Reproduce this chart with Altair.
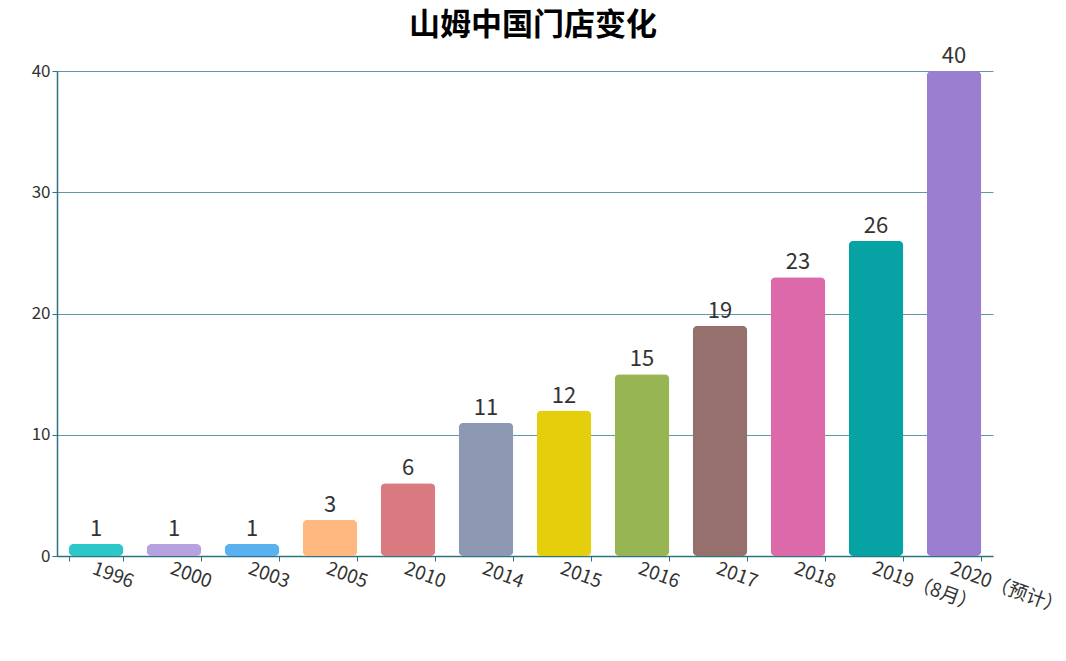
import altair as alt
import pandas as pd

categories = ["1996", "2000", "2003", "2005", "2010", "2014", "2015", "2016", "2017", "2018", "2019（8月）", "2020（预计）"]
stores = [1, 1, 1, 3, 6, 11, 12, 15, 19, 23, 26, 40]
colors = ["#2ec7c9", "#b6a2de", "#5ab1ef", "#ffb980", "#d87a80", "#8d98b3",
          "#e5cf0d", "#97b552", "#95706d", "#dc69aa", "#07a2a4", "#9a7fd1"]

df = pd.DataFrame({"year": categories, "stores": stores})

FONT = "Noto Sans CJK SC"

x = alt.X("year:N", sort=categories, title=None,
          scale=alt.Scale(paddingInner=0.3, paddingOuter=0.15),
          axis=alt.Axis(labelAngle=20, labelAlign="left", labelBaseline="top",
                        labelFontSize=19, labelColor="#333333", labelFont=FONT,
                        labelPadding=-2, tickBand="extent", tickSize=5,
                        tickColor="#2a7580", domainColor="#2a7580", domainWidth=1.5,
                        grid=False, labelOverlap=False))
y = alt.Y("stores:Q", title=None,
          scale=alt.Scale(domain=[0, 40], nice=False),
          axis=alt.Axis(values=[0, 10, 20, 30, 40], labelFontSize=17, labelColor="#333333",
                        labelFont=FONT, tickSize=5, tickColor="#2a7580",
                        domainColor="#2a7580", domainWidth=1.5,
                        gridColor="#5c9aa3", gridWidth=1, gridOpacity=1))

bars = alt.Chart(df).mark_bar(cornerRadius=5).encode(
    x=x, y=y,
    color=alt.Color("year:N", sort=categories,
                    scale=alt.Scale(domain=categories, range=colors), legend=None),
)

labels = alt.Chart(df).mark_text(dy=-15, fontSize=22, color="#333333", font=FONT).encode(
    x=alt.X("year:N", sort=categories),
    y="stores:Q",
    text="stores:Q",
)

chart = (bars + labels).properties(
    width=936, height=485,
    title=alt.TitleParams("山姆中国门店变化", fontSize=31, font=FONT, fontWeight="bold",
                          color="#000000", anchor="middle", offset=3, dx=8),
    autosize=alt.AutoSizeParams(type="none"),
    padding={"left": 49, "top": 63, "right": 65, "bottom": 97},
).configure_view(stroke=None)

chart.save("out.html", embed_options={"renderer": "svg", "actions": False})
